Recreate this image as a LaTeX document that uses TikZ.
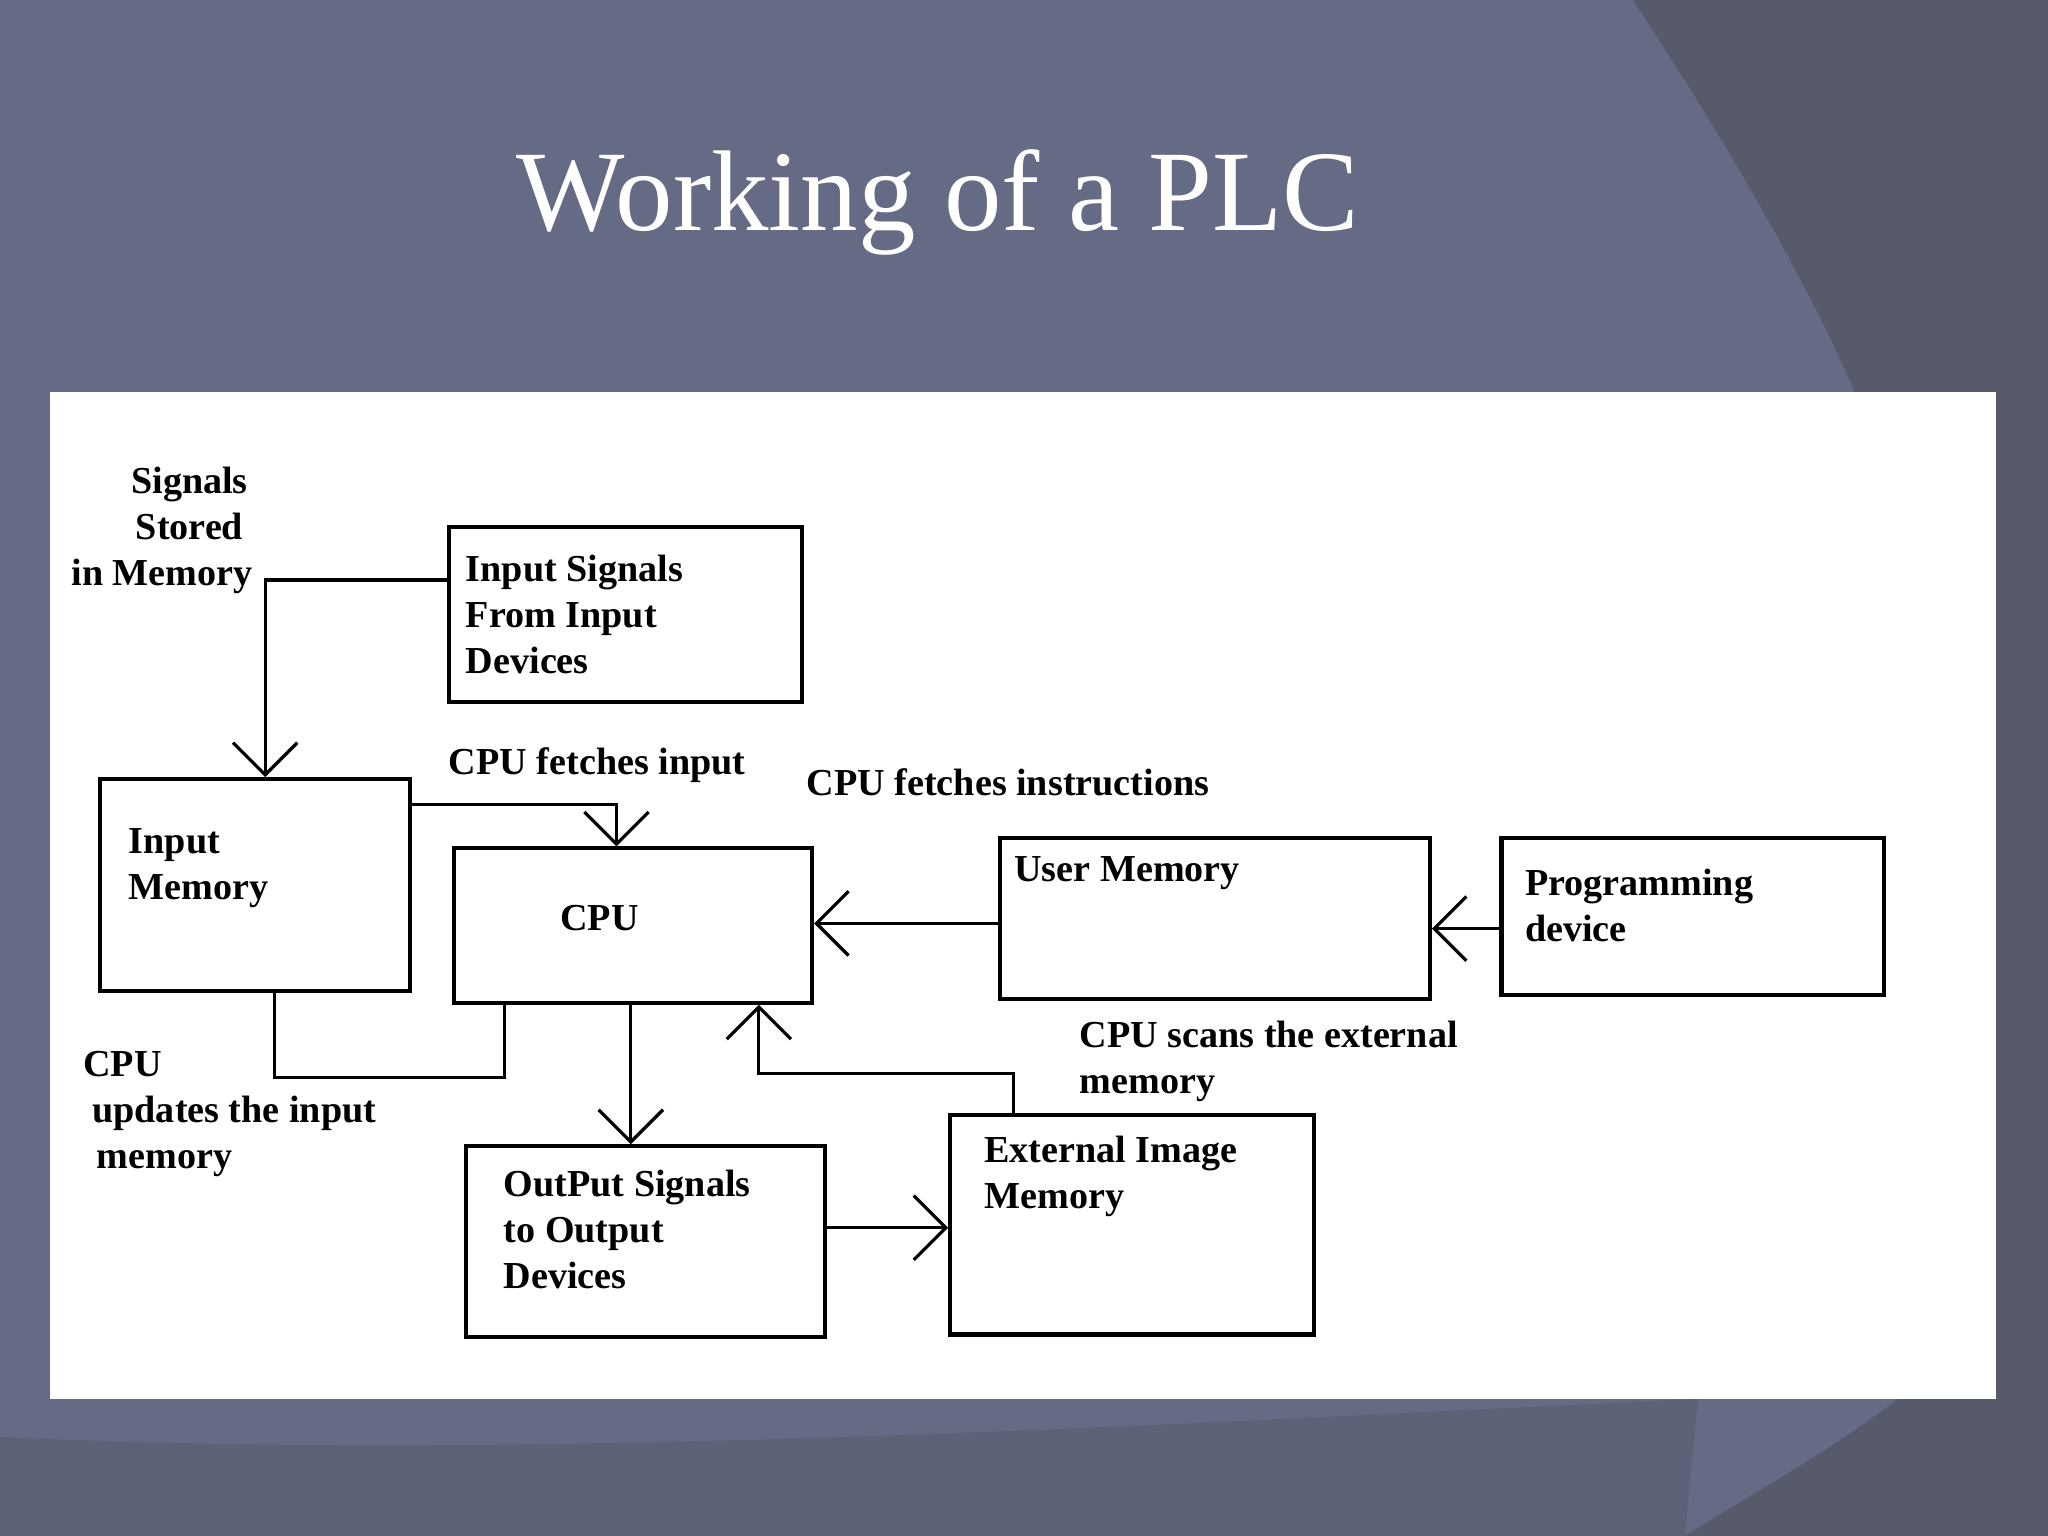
\documentclass[tikz,border=0pt]{standalone}
\usepackage{fontspec}
\setmainfont{Liberation Serif}
\usetikzlibrary{arrows.meta}
\definecolor{bg}{HTML}{656A85}
\definecolor{bgd}{HTML}{575A6B}
\definecolor{bgb}{HTML}{5E6276}
\begin{document}
\begin{tikzpicture}[x=0.01cm,y=-0.01cm,
  box/.style={draw,line width=0.9pt,anchor=north west,inner sep=0pt},
  lab/.style={font=\fontsize{8.3}{10}\selectfont\bfseries,inner sep=0pt,align=left},
  conn/.style={line width=0.7pt,-{Straight Barb[length=7pt,width=14pt]}},
  line/.style={line width=0.7pt}]
\useasboundingbox (0,0) rectangle (1568,1176);
\fill[bg] (0,0) rectangle (1568,1176);
\fill[bgb] (0,1100) .. controls (400,1120) and (900,1090) .. (1300,1071) -- (1290,1176) -- (0,1176) -- cycle;
\fill[bgd] (1250,0) .. controls (1330,120) and (1390,230) .. (1420,300) -- (1528,300) -- (1528,1000) .. controls (1460,1080) and (1380,1120) .. (1290,1176) -- (1568,1176) -- (1568,0) -- cycle;
\fill[white] (38,300) rectangle (1528,1071);
\node[text=white,font=\fontsize{25}{30}\selectfont] (title) at (718,155) {Working of a PLC};
% boxes
\node[box,minimum width=2.70cm,minimum height=1.34cm] (is) at (342,402) {};
\node[box,minimum width=2.37cm,minimum height=1.62cm] (im) at (75,595) {};
\node[box,minimum width=2.74cm,minimum height=1.18cm] (cpu) at (346,648) {};
\node[box,minimum width=3.29cm,minimum height=1.23cm] (um) at (764,640) {};
\node[box,minimum width=2.93cm,minimum height=1.20cm] (pd) at (1148,640) {};
\node[box,minimum width=2.75cm,minimum height=1.46cm] (os) at (355,876) {};
\node[box,minimum width=2.78cm,minimum height=1.68cm] (ei) at (726,852) {};
% box texts
\node[lab,anchor=north west] (t1) at (356,424) {Input Signals\\From Input\\Devices};
\node[lab,anchor=north west] (t2) at (98,634) {Input\\Memory};
\node[lab] (t3) at (459,703) {CPU};
\node[lab,anchor=north west] (t4) at (776,655) {User Memory};
\node[lab,anchor=north west] (t5) at (1167,665) {Programming\\device};
\node[lab,anchor=north west] (t6) at (385,895) {OutPut Signals\\to Output\\Devices};
\node[lab,anchor=north west] (t7) at (753,869) {External Image\\Memory};
% labels
\node[lab,align=center] (l1) at (124,406) {\hspace*{12pt}Signals\\\hspace*{12pt}Stored\\in Memory};
\node[lab,anchor=north west] (l2) at (343,572) {CPU fetches input};
\node[lab,anchor=north west] (l3) at (617,588) {CPU fetches instructions};
\node[lab,anchor=north west,align=left] (l4) at (63,804) {CPU\\\hspace*{2pt}updates the input\\\hspace*{3pt}memory};
\node[lab,anchor=north west] (l5) at (826,781) {CPU scans the external\\memory};
% coordinates
\coordinate (a1) at (203,444);
\coordinate (a2) at (472,616);
\coordinate (a3) at (210,825);
\coordinate (a4) at (386,825);
\coordinate (a5) at (776,822);
\coordinate (a6) at (581,822);
% connectors
\draw[conn] (is.west |- a1) -- (a1) -- (a1 |- im.north);
\draw[conn] (im.east |- a2) -- (a2) -- (a2 |- cpu.north);
\draw[conn] (um.west |- 0,707) -- (cpu.east |- 0,707);
\draw[conn] (pd.west |- 0,711) -- (um.east |- 0,711);
\draw[line] (a3 |- im.south) -- (a3) -- (a4) -- (a4 |- cpu.south);
\draw[conn] (cpu.south -| 483,0) -- (os.north -| 483,0);
\draw[conn] (a5 |- ei.north) -- (a5) -- (a6) -- (a6 |- cpu.south);
\draw[conn] (os.east |- 0,940) -- (ei.west |- 0,940);
\end{tikzpicture}
\end{document}
